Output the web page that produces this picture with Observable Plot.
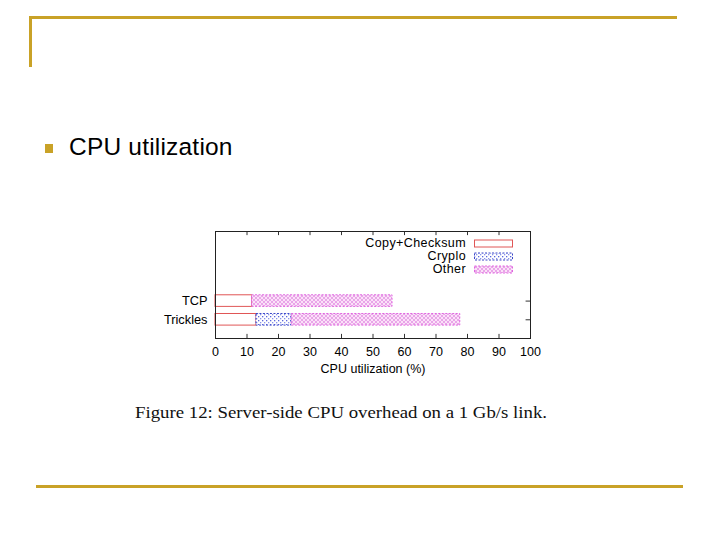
<!DOCTYPE html>
<html>
<head>
<meta charset="utf-8">
<script src="https://cdn.jsdelivr.net/npm/d3@7"></script>
<script src="https://cdn.jsdelivr.net/npm/@observablehq/plot@0.6"></script>
<style>
  html, body { margin: 0; padding: 0; background: #fff; }
  #slide { position: relative; width: 720px; height: 540px; overflow: hidden; background: #fff; font-family: "Liberation Sans", Arial, sans-serif; }
  .gold { position: absolute; background: #c9a227; }
  #bullet { position: absolute; left: 45px; top: 144px; width: 8px; height: 9px; background: #c9a227; }
  #heading { position: absolute; left: 69px; top: 132px; font-size: 24.5px; letter-spacing: 0.2px; line-height: 30px; color: #000; font-family: "Liberation Sans", Arial, sans-serif; }
  #chart { position: absolute; left: 150px; top: 220px; }
  #legend { position: absolute; left: 330px; top: 237px; width: 190px; font-size: 12.5px; letter-spacing: 0.4px; line-height: 13px; color: #000; }
  .lrow { display: flex; justify-content: flex-end; align-items: center; height: 13px; }
  .lrow span { margin-right: 8px; }
  .lrow svg { display: block; margin-right: 6px; }
  #caption { position: absolute; left: 135px; top: 400px; }
</style>
</head>
<body>
<div id="slide">
  <div class="gold" style="left:29px; top:16px; width:648px; height:3px;"></div>
  <div class="gold" style="left:29px; top:16px; width:3px; height:51px;"></div>
  <div class="gold" style="left:36px; top:485px; width:647px; height:3px;"></div>
  <div id="bullet"></div>
  <div id="heading">CPU utilization</div>
  <div id="chart"></div>
  <div id="legend"></div>
  <svg id="caption" width="440" height="24"><text x="0" y="17.5" textLength="412" lengthAdjust="spacingAndGlyphs" font-family="'Liberation Serif', 'Times New Roman', serif" font-size="17.5" fill="#111">Figure 12: Server-side CPU overhead on a 1 Gb/s link.</text></svg>
</div>
<script>
// ---- data ----
const categories = ["TCP", "Trickles"];
const seriesNames = ["Copy+Checksum", "Crypto", "Other"];
const copyChecksum = [11.6, 13.0];
const crypto = [0, 11.2];
const other = [44.6, 53.5];
const xTicks = [0, 10, 20, 30, 40, 50, 60, 70, 80, 90, 100];
const xLabel = "CPU utilization (%)";
const legendLabels = ["Copy+Checksum", "Cryplo", "Other"];

// ---- build table ----
const seriesValues = [copyChecksum, crypto, other];
const rows = [];
categories.forEach((cat, i) => {
  let start = 0;
  seriesValues.forEach((vals, s) => {
    rows.push({category: cat, pos: categories.length - i, series: seriesNames[s], x1: start, x2: start + vals[i]});
    start += vals[i];
  });
});
const yPositions = categories.map((c, i) => categories.length - i);
const yTop = 5.72;
const half = 0.31;

const fills = {
  "Copy+Checksum": "#ffffff",
  "Crypto": "url(#pat-crypto)",
  "Other": "url(#pat-other)"
};
const strokes = {
  "Copy+Checksum": "#e05656",
  "Crypto": "#3a46c8",
  "Other": "#e066e0"
};
const dashes = {
  "Copy+Checksum": null,
  "Crypto": "2,1.5",
  "Other": "2,1.5"
};

const barMarks = seriesNames.map(name =>
  Plot.rectX(rows.filter(r => r.series === name && r.x2 > r.x1), {
    x1: "x1", x2: "x2",
    y1: d => d.pos - half, y2: d => d.pos + half,
    fill: fills[name], stroke: strokes[name], strokeWidth: 1,
    strokeDasharray: dashes[name]
  })
);

const chart = Plot.plot({
  width: 400,
  height: 170,
  marginLeft: 65,
  marginRight: 20,
  marginTop: 11,
  marginBottom: 52,
  style: {background: "transparent", fontFamily: "'Liberation Sans', Arial, sans-serif", fontSize: "12.5px", color: "#000", overflow: "visible"},
  x: {domain: [0, 100]},
  y: {domain: [0, yTop]},
  marks: [
    ...barMarks,
    Plot.ruleX(xTicks, {x: d => d, y1: 0, y2: 0.22, stroke: "#333"}),
    Plot.ruleX(xTicks, {x: d => d, y1: yTop - 0.22, y2: yTop, stroke: "#333"}),
    Plot.ruleY(yPositions, {y: d => d, x1: 98.6, x2: 100, stroke: "#333"}),
    Plot.frame({stroke: "#222"}),
    Plot.axisX({ticks: xTicks, tickSize: 0, tickPadding: 9, label: null, fontSize: 12.5}),
    Plot.text([xLabel], {text: d => d, frameAnchor: "bottom", dy: 30, lineAnchor: "middle", fontSize: 12.5, fill: "#000"}),
    Plot.axisY({ticks: yPositions, tickFormat: d => categories[categories.length - d], tickSize: 0, tickPadding: 8, label: null, fontSize: 12.8})
  ]
});

// patterns
const defs = d3.select(chart).insert("defs", ":first-child");
const pc = defs.append("pattern").attr("id", "pat-crypto").attr("patternUnits", "userSpaceOnUse").attr("width", 4).attr("height", 4);
pc.append("rect").attr("width", 4).attr("height", 4).attr("fill", "#ffffff");
pc.append("rect").attr("x", 0).attr("y", 0).attr("width", 1.3).attr("height", 1.3).attr("fill", "#5a66dd");
pc.append("rect").attr("x", 2).attr("y", 2).attr("width", 1.3).attr("height", 1.3).attr("fill", "#8a94ea");
const po = defs.append("pattern").attr("id", "pat-other").attr("patternUnits", "userSpaceOnUse").attr("width", 4).attr("height", 4);
po.append("rect").attr("width", 4).attr("height", 4).attr("fill", "#fbe2f8");
po.append("path").attr("d", "M0,0L4,4M4,0L0,4").attr("stroke", "#e596e5").attr("stroke-width", 0.8);

document.getElementById("chart").appendChild(chart);

// legend
const legend = d3.select("#legend");
seriesNames.forEach((name, i) => {
  const row = legend.append("div").attr("class", "lrow");
  row.append("span").text(legendLabels[i]);
  const sw = row.append("svg").attr("width", 40).attr("height", 9);
  sw.append("rect").attr("x", 0.5).attr("y", 1).attr("width", 38).attr("height", 7)
    .attr("fill", fills[name]).attr("stroke", strokes[name]).attr("stroke-width", 1)
    .attr("stroke-dasharray", dashes[name]);
});
</script>
</body>
</html>
